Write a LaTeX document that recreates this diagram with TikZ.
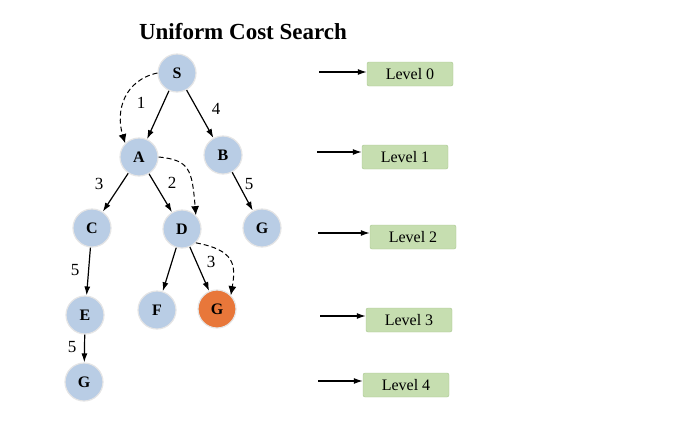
\documentclass[tikz,border=0pt]{standalone}
\usepackage{fontspec}
\setmainfont{Liberation Serif}
\usetikzlibrary{arrows.meta}
\definecolor{nb}{HTML}{B9CDE5}
\definecolor{og}{HTML}{E8773A}
\definecolor{lg}{HTML}{C6DEB0}
\definecolor{lgd}{HTML}{A9C68E}
\begin{document}
\begin{tikzpicture}[x=1pt,y=-1pt,
  nd/.style={circle,fill=nb,draw=gray!20,line width=1.2pt,minimum size=38pt,inner sep=0pt,font=\bfseries\fontsize{16}{16}\selectfont},
  gn/.style={nd,fill=og},
  lv/.style={draw=lgd,fill=lg,rounded corners=2pt,minimum width=86pt,minimum height=24pt,font=\fontsize{16}{16}\selectfont},
  ed/.style={-{Latex[length=9pt,width=6pt]},line width=1.2pt},
  da/.style={-{Latex[length=9pt,width=8pt]},line width=1pt,dash pattern=on 5pt off 3pt},
  wl/.style={font=\fontsize{17}{17}\selectfont}]
\useasboundingbox (0,0) rectangle (674,429);
\node[font=\bfseries\fontsize{23}{23}\selectfont] (t) at (243,32) {Uniform Cost Search};
\node[nd] (S) at (177,73) {S};
\node[nd] (A) at (139,157) {A};
\node[nd] (B) at (223,155) {B};
\node[nd] (C) at (92,228) {C};
\node[nd] (D) at (182,229) {D};
\node[nd] (G1) at (262,228) {G};
\node[nd] (E) at (85,315) {E};
\node[nd] (F) at (157,310) {F};
\node[gn] (G2) at (217,309) {G};
\node[nd] (G3) at (84,382) {G};
\draw[ed] (S) -- (A); \draw[ed] (S) -- (B);
\draw[ed] (A) -- (C); \draw[ed] (A) -- (D);
\draw[ed] (B) -- (G1);
\draw[ed] (C) -- (E);
\draw[ed] (D) -- (F); \draw[ed] (D) -- (G2);
\draw[ed] (E) -- (G3);
\draw[da] (S.west) .. controls (125,80) and (115,110) .. (A.north west);
\draw[da] (A.east) .. controls (190,160) and (192,170) .. (D.north east);
\draw[da] (D.south east) .. controls (235,250) and (236,265) .. (G2.north east);
\node[wl] (w1) at (141,103) {1};
\node[wl] (w2) at (216,109) {4};
\node[wl] (w3) at (99,184) {3};
\node[wl] (w4) at (172,183) {2};
\node[wl] (w5) at (249,184) {5};
\node[wl] (w6) at (75,270) {5};
\node[wl] (w7) at (211,262) {3};
\node[wl] (w8) at (72,347) {5};
\node[lv] (L0) at (410,74) {Level 0};
\node[lv] (L1) at (405,157) {Level 1};
\node[lv] (L2) at (413,237) {Level 2};
\node[lv] (L3) at (409,320) {Level 3};
\node[lv] (L4) at (406,385) {Level 4};
\coordinate (a0) at (319,72); \coordinate (a1) at (317,152);
\coordinate (a2) at (318,233); \coordinate (a3) at (320,316);
\coordinate (a4) at (318,381);
\draw[ed] (a0) -- (a0 -| L0.west);
\draw[ed] (a1) -- (a1 -| L1.west);
\draw[ed] (a2) -- (a2 -| L2.west);
\draw[ed] (a3) -- (a3 -| L3.west);
\draw[ed] (a4) -- (a4 -| L4.west);
\end{tikzpicture}
\end{document}
